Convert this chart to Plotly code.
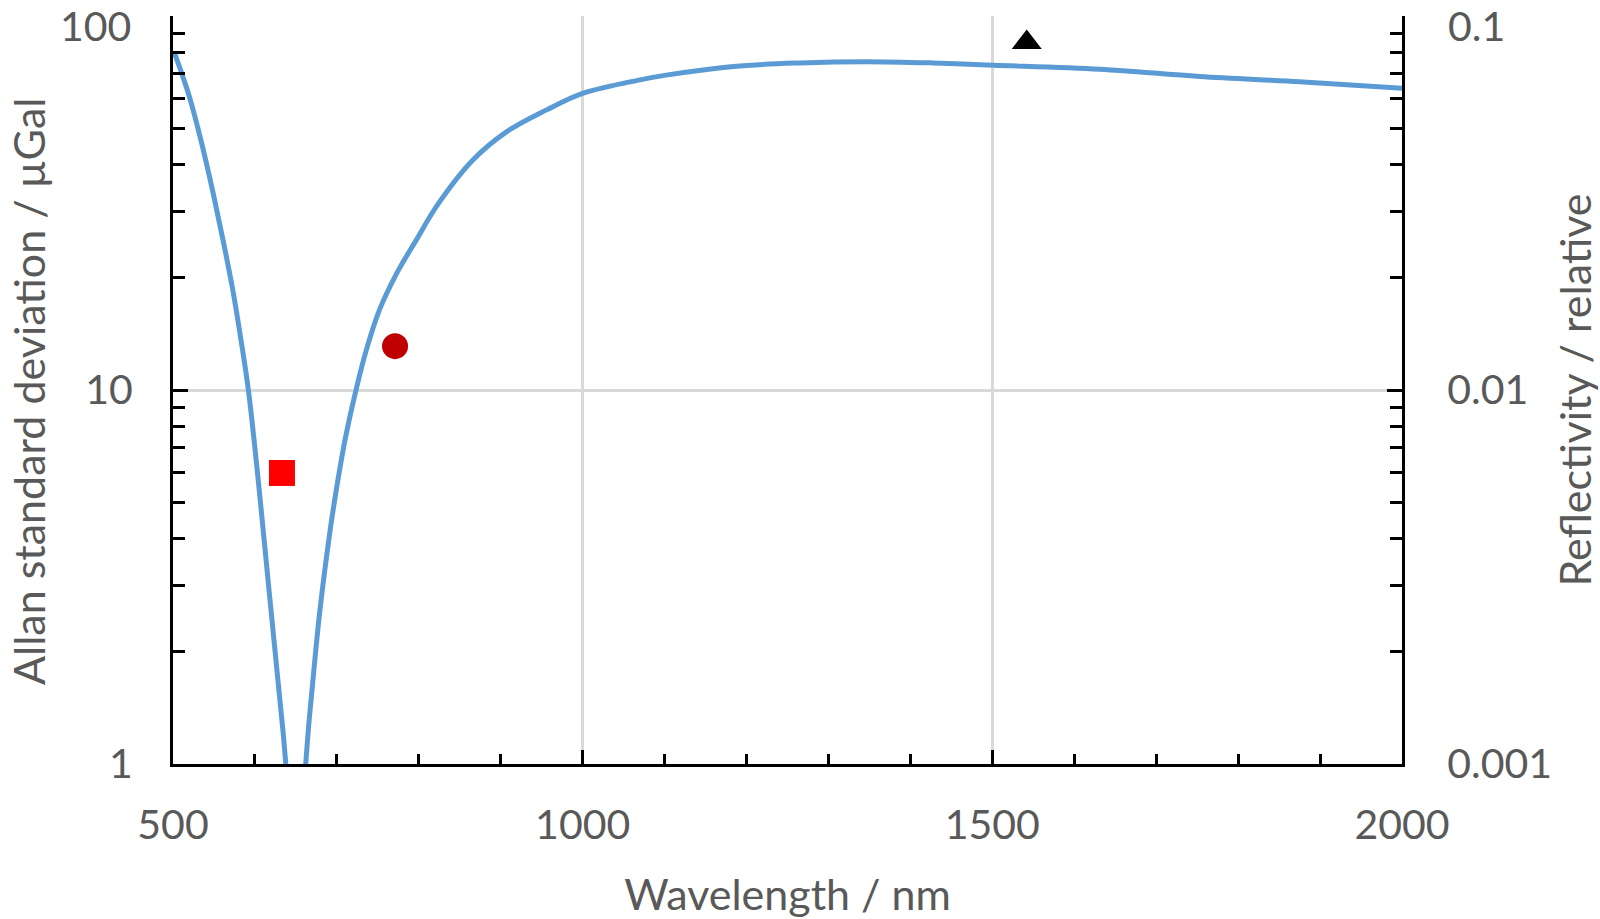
import plotly.graph_objects as go

# Reflectivity curve (right axis)
wavelength_nm = [502, 520, 537, 549, 561, 573, 583, 592, 604, 614, 624, 634, 650,
                 667, 679, 691, 698, 710, 724, 736, 752, 773, 797, 823, 866, 907, 956,
                 1000, 1070, 1102, 1184, 1265, 1346, 1428, 1501, 1631, 1753, 1875, 2000]
reflectivity = [0.0794, 0.0608, 0.0438, 0.0336, 0.0252, 0.0185, 0.0136, 0.0100, 0.00575,
                0.00344, 0.00206, 0.00124, 0.00057, 0.00137, 0.00254, 0.00410, 0.00519,
                0.00736, 0.01013, 0.0128, 0.01637, 0.0205, 0.0252, 0.0313, 0.0412, 0.0490,
                0.0561, 0.0621, 0.0675, 0.0695, 0.0733, 0.0749, 0.0755, 0.0749,
                0.0739, 0.0721, 0.0689, 0.0667, 0.0641]

# Allan standard deviation points (left axis)
laser_nm = [633, 771, 1542]
allan_ugal = [6.0, 13.1, 85]
marker_symbols = ["square", "circle", "triangle-up"]
marker_colors = ["#FF0000", "#C00000", "#000000"]

x_ticks = [500, 1000, 1500, 2000]
y_ticks = [1, 10, 100]
y_tick_text = ["1", "10", ""]
y_top_label = "100"
y2_ticks = [0.001, 0.01, 0.1]
y2_tick_text = ["0.001", "0.01", ""]
y2_top_label = "0.1"
y_minor = [2, 3, 4, 5, 6, 7, 8, 9, 20, 30, 40, 50, 60, 70, 80, 90]
y2_minor = [0.002, 0.003, 0.004, 0.005, 0.006, 0.007, 0.008, 0.009,
            0.02, 0.03, 0.04, 0.05, 0.06, 0.07, 0.08, 0.09]
y_title = "Allan standard deviation / µGal"

FONT = "Lato"
GREY = "#595959"

fig = go.Figure()
fig.add_trace(go.Scatter(x=wavelength_nm, y=reflectivity, mode="lines",
                         line=dict(color="#5B9BD5", width=5, shape="spline", smoothing=1.0),
                         yaxis="y2", showlegend=False))
for xv, yv, sym, col in zip(laser_nm, allan_ugal, marker_symbols, marker_colors):
    fig.add_trace(go.Scatter(x=[xv], y=[yv], mode="markers",
                             marker=dict(symbol=sym, size=26, color=col, line=dict(width=0)),
                             showlegend=False))

tickfont = dict(family=FONT, size=41, color=GREY)
titlefont = dict(family=FONT, size=43, color=GREY)

# top tick labels kept inside the page
fig.add_annotation(xref="paper", yref="paper", x=0, y=1, xanchor="right", yanchor="top",
                   xshift=-41, yshift=16, borderpad=0, text=y_top_label,
                   showarrow=False, font=tickfont)
fig.add_annotation(xref="paper", yref="paper", x=1, y=1, xanchor="left", yanchor="top",
                   xshift=45, yshift=16, borderpad=0, text=y2_top_label,
                   showarrow=False, font=tickfont)
# left axis title
fig.add_annotation(xref="paper", yref="paper", x=0, y=0.5, xanchor="center", yanchor="middle",
                   xshift=-145, yshift=-2, textangle=-90, text=y_title, borderpad=0,
                   showarrow=False, font=titlefont)

fig.update_layout(
    width=1600, height=919,
    margin=dict(l=173, r=198, t=16, b=155),
    paper_bgcolor="white", plot_bgcolor="white",
    xaxis=dict(range=[500, 2000], tickvals=x_ticks, ticks="inside", ticklen=14,
               tickwidth=3, tickcolor="black", showline=True, linecolor="black",
               linewidth=3, showgrid=True, gridcolor="#D9D9D9", gridwidth=2.5,
               zeroline=False, tickfont=tickfont, ticklabelstandoff=23,
               ticklabeloverflow="allow", automargin=False,
               minor=dict(dtick=100, ticks="inside", ticklen=10, tickwidth=3,
                          tickcolor="black", showgrid=False),
               title=dict(text="Wavelength / nm", font=titlefont, standoff=33)),
    yaxis=dict(type="log", range=[0, 2], tickvals=y_ticks, ticktext=y_tick_text,
               ticks="inside", ticklen=15, tickwidth=3, tickcolor="black",
               showline=True, linecolor="black", linewidth=3, showgrid=True,
               gridcolor="#D9D9D9", gridwidth=2.5, zeroline=False, tickfont=tickfont,
               ticklabelstandoff=29, ticklabeloverflow="allow", automargin=False,
               minor=dict(tickvals=y_minor, ticks="inside", ticklen=12, tickwidth=3,
                          tickcolor="black", showgrid=False)),
    yaxis2=dict(type="log", range=[-3, -1], overlaying="y", side="right",
                tickvals=y2_ticks, ticktext=y2_tick_text, ticks="inside", ticklen=15,
                tickwidth=3, tickcolor="black", showline=True, linecolor="black",
                linewidth=3, showgrid=False, zeroline=False, tickfont=tickfont,
                ticklabelstandoff=34, ticklabeloverflow="allow", automargin=False,
                minor=dict(tickvals=y2_minor, ticks="inside", ticklen=12, tickwidth=3,
                           tickcolor="black", showgrid=False),
                title=dict(text="Reflectivity / relative", font=titlefont, standoff=15)),
)

fig.write_html("out.html")
